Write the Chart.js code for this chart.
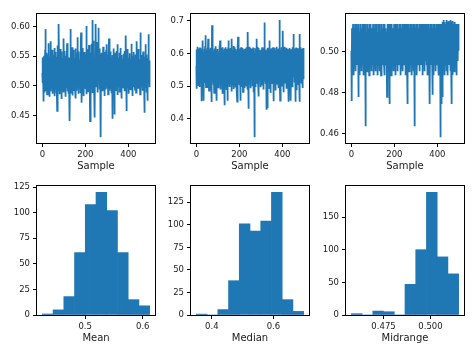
<!DOCTYPE html>
<html><head><meta charset="utf-8">
<script src="https://cdn.jsdelivr.net/npm/chart.js@4/dist/chart.umd.min.js"></script>
<style>
html,body{margin:0;padding:0;background:#fff;}
#fig{position:relative;width:474px;height:355px;overflow:hidden;background:#fff;}
.pane{position:absolute;}
</style></head><body><div id="fig"></div>
<script>
// ---------------- DATA ----------------
const sampleTickLabels = ['0','200','400'];

const meanSeries = [
0.522,0.548,0.505,0.531,0.497,0.474,0.538,0.512,0.551,0.489,0.527,0.543,0.502,0.561,0.596,0.515,0.535,0.493,0.556,0.521,0.508,0.547,0.486,0.529,0.553,
0.511,0.538,0.495,0.566,0.519,0.572,0.503,0.534,0.482,0.549,0.526,0.507,0.558,0.491,0.541,0.575,0.514,0.498,0.537,0.522,0.561,0.487,0.532,0.545,0.509,
0.528,0.552,0.494,0.519,0.541,0.503,0.564,0.512,0.483,0.536,0.524,0.557,0.497,0.545,0.515,0.531,0.488,0.549,0.506,0.458,0.533,0.568,0.501,0.539,0.518,
0.545,0.492,0.604,0.523,0.509,0.554,0.486,0.537,0.527,0.562,0.499,0.516,0.543,0.478,0.531,0.558,0.505,0.521,0.547,0.493,0.535,0.511,0.566,0.489,0.529,
0.580,0.513,0.542,0.496,0.525,0.559,0.503,0.538,0.482,0.551,0.519,0.534,0.497,0.546,0.527,0.572,0.508,0.536,0.491,0.553,0.521,0.544,0.487,0.532,0.516,
0.548,0.501,0.529,0.441,0.537,0.518,0.596,0.506,0.543,0.489,0.557,0.523,0.511,0.565,0.496,0.532,0.548,0.484,0.526,0.539,0.504,0.561,0.517,0.493,0.535,
0.522,0.547,0.498,0.531,0.563,0.509,0.479,0.541,0.526,0.555,0.492,0.518,0.536,0.582,0.503,0.528,0.549,0.487,0.533,0.514,0.558,0.497,0.539,0.521,0.506,
0.544,0.515,0.531,0.488,0.552,0.590,0.507,0.536,0.472,0.525,0.548,0.501,0.539,0.518,0.564,0.494,0.529,0.543,0.483,0.557,0.512,0.535,0.499,0.546,0.523,
0.538,0.495,0.553,0.517,0.529,0.486,0.601,0.521,0.541,0.503,0.562,0.511,0.534,0.491,0.548,0.526,0.507,0.569,0.498,0.537,0.515,0.545,0.441,0.531,0.556,
0.509,0.542,0.524,0.571,0.496,0.535,0.553,0.488,0.611,0.517,0.547,0.528,0.576,0.503,0.539,0.561,0.492,0.533,0.519,0.447,0.544,0.567,0.511,0.526,0.604,
0.514,0.551,0.498,0.538,0.527,0.574,0.505,0.543,0.489,0.559,0.521,0.598,0.512,0.536,0.548,0.494,0.531,0.563,0.506,0.525,0.541,0.487,0.414,0.553,0.518,
0.537,0.502,0.556,0.523,0.491,0.545,0.529,0.511,0.566,0.497,0.534,0.519,0.548,0.483,0.528,0.557,0.507,0.539,0.515,0.494,0.546,0.522,0.561,0.503,0.531,
0.570,0.513,0.541,0.496,0.526,0.552,0.486,0.535,0.518,0.543,0.580,0.505,0.529,0.547,0.492,0.537,0.521,0.558,0.499,0.532,0.514,0.549,0.488,0.527,0.541,
0.508,0.536,0.445,0.552,0.519,0.534,0.497,0.563,0.525,0.511,0.452,0.544,0.529,0.556,0.502,0.538,0.517,0.549,0.493,0.531,0.523,0.559,0.506,0.541,0.485,
0.570,0.514,0.535,0.498,0.548,0.522,0.507,0.543,0.529,0.489,0.556,0.517,0.539,0.501,0.564,0.526,0.511,0.547,0.479,0.533,0.552,0.504,0.538,0.519,0.545,
0.496,0.531,0.554,0.512,0.527,0.543,0.491,0.559,0.518,0.536,0.505,0.548,0.524,0.499,0.585,0.515,0.539,0.458,0.546,0.521,0.533,0.507,0.562,0.497,0.529,
0.541,0.513,0.548,0.487,0.532,0.519,0.555,0.502,0.537,0.524,0.493,0.546,0.512,0.534,0.528,0.571,0.508,0.539,0.483,0.526,0.551,0.517,0.535,0.498,0.543,
0.521,0.557,0.505,0.532,0.516,0.547,0.494,0.538,0.527,0.509,0.553,0.489,0.531,0.544,0.518,0.575,0.501,0.536,0.523,0.548,0.497,0.533,0.562,0.511,0.528,
0.545,0.503,0.537,0.519,0.529,0.486,0.590,0.514,0.541,0.526,0.498,0.552,0.508,0.534,0.521,0.547,0.492,0.539,0.515,0.558,0.502,0.531,0.545,0.511,0.455,
0.527,0.549,0.506,0.536,0.519,0.570,0.497,0.542,0.524,0.512,0.553,0.489,0.535,0.528,0.547,0.475,0.538,0.516,0.532,0.505,0.587,0.521,0.543,0.498,0.531
];

const medianSeries = [
0.561,0.492,0.612,0.527,0.598,0.515,0.621,0.548,0.503,0.607,0.536,0.584,0.521,0.615,0.497,0.592,0.543,0.618,0.509,0.576,0.604,0.531,0.612,0.453,0.589,
0.525,0.608,0.541,0.619,0.502,0.640,0.552,0.517,0.603,0.488,0.455,0.596,0.533,0.614,0.509,0.582,0.623,0.518,0.656,0.546,0.497,0.611,0.538,0.587,0.514,
0.602,0.529,0.617,0.494,0.578,0.645,0.521,0.608,0.543,0.486,0.613,0.552,0.507,0.594,0.532,0.618,0.498,0.574,0.611,0.536,0.451,0.605,0.524,0.687,0.547,
0.593,0.512,0.619,0.538,0.584,0.503,0.609,0.556,0.479,0.615,0.527,0.598,0.545,0.612,0.495,0.576,0.622,0.531,0.604,0.516,0.455,0.608,0.549,0.587,0.523,
0.614,0.496,0.591,0.538,0.607,0.519,0.583,0.625,0.507,0.549,0.640,0.528,0.612,0.489,0.596,0.541,0.617,0.513,0.573,0.604,0.532,0.619,0.476,0.588,0.545,
0.509,0.611,0.553,0.597,0.522,0.441,0.615,0.537,0.583,0.498,0.606,0.526,0.619,0.544,0.512,0.602,0.571,0.488,0.614,0.533,0.455,0.592,0.547,0.618,0.505,
0.640,0.524,0.589,0.612,0.497,0.578,0.615,0.541,0.506,0.599,0.528,0.617,0.551,0.483,0.607,0.645,0.519,0.594,0.537,0.611,0.502,0.586,0.623,0.534,0.491,
0.608,0.547,0.513,0.619,0.575,0.529,0.603,0.496,0.614,0.542,0.584,0.518,0.609,0.553,0.487,0.452,0.597,0.531,0.618,0.651,0.509,0.593,0.538,0.612,0.524,
0.581,0.615,0.503,0.547,0.606,0.455,0.591,0.528,0.619,0.542,0.497,0.608,0.574,0.515,0.617,0.536,0.589,0.482,0.611,0.549,0.523,0.603,0.558,0.614,0.494,
0.577,0.609,0.537,0.521,0.615,0.546,0.502,0.596,0.619,0.531,0.583,0.511,0.607,0.552,0.489,0.666,0.543,0.598,0.430,0.612,0.527,0.574,0.621,0.508,0.591,
0.535,0.617,0.544,0.493,0.605,0.572,0.519,0.614,0.538,0.586,0.499,0.609,0.551,0.526,0.618,0.481,0.594,0.533,0.611,0.547,0.509,0.343,0.602,0.529,0.616,
0.543,0.497,0.588,0.613,0.524,0.645,0.556,0.507,0.609,0.536,0.579,0.621,0.514,0.592,0.548,0.468,0.617,0.531,0.603,0.522,0.586,0.611,0.539,0.496,0.607,
0.553,0.518,0.614,0.541,0.583,0.502,0.619,0.537,0.594,0.526,0.608,0.489,0.572,0.615,0.533,0.549,0.611,0.514,0.695,0.542,0.597,0.521,0.612,0.506,0.586,
0.427,0.609,0.548,0.593,0.516,0.432,0.618,0.539,0.577,0.604,0.512,0.589,0.546,0.615,0.491,0.640,0.528,0.607,0.553,0.479,0.612,0.534,0.598,0.521,0.616,
0.545,0.587,0.509,0.613,0.538,0.594,0.524,0.619,0.551,0.497,0.453,0.606,0.532,0.581,0.617,0.515,0.598,0.543,0.611,0.486,0.573,0.608,0.529,0.621,0.547,
0.505,0.596,0.612,0.537,0.584,0.519,0.607,0.548,0.493,0.615,0.531,0.589,0.556,0.703,0.524,0.455,0.611,0.543,0.598,0.513,0.619,0.538,0.579,0.609,0.501,
0.592,0.547,0.615,0.670,0.526,0.603,0.539,0.481,0.612,0.558,0.517,0.594,0.621,0.533,0.586,0.508,0.614,0.545,0.597,0.523,0.618,0.492,0.571,0.609,0.536,
0.583,0.614,0.519,0.598,0.547,0.452,0.611,0.532,0.588,0.506,0.617,0.541,0.579,0.604,0.525,0.455,0.613,0.551,0.592,0.514,0.608,0.537,0.496,0.619,0.548,
0.574,0.609,0.528,0.660,0.543,0.597,0.511,0.615,0.536,0.584,0.452,0.606,0.549,0.521,0.618,0.538,0.593,0.487,0.612,0.545,0.577,0.609,0.503,0.616,0.532,
0.589,0.547,0.611,0.524,0.598,0.452,0.660,0.537,0.606,0.515,0.592,0.619,0.541,0.583,0.508,0.614,0.553,0.527,0.609,0.494,0.596,0.538,0.617,0.521,0.612
];

const midrangeSeries = [
0.5005,0.4935,0.4760,0.5115,0.4985,0.5095,0.4935,0.5025,0.5135,0.4955,0.5005,0.4885,0.5075,0.5005,0.4935,0.5115,0.4985,0.5055,0.4935,0.5135,0.5005,0.4905,0.5095,0.4985,0.5025,
0.4935,0.5135,0.5005,0.4955,0.5075,0.4985,0.5115,0.4780,0.5025,0.4935,0.5135,0.5005,0.4885,0.5055,0.4985,0.5095,0.4935,0.5025,0.5135,0.4955,0.5005,0.5075,0.4905,0.5115,0.4985,
0.5025,0.4935,0.5135,0.5005,0.4955,0.5095,0.4985,0.5055,0.4885,0.5135,0.5005,0.4935,0.5075,0.4985,0.5115,0.5025,0.4637,0.5005,0.5135,0.4935,0.5055,0.4985,0.5095,0.4905,0.5025,
0.5135,0.4955,0.5005,0.5075,0.4935,0.5115,0.4985,0.5025,0.4885,0.5135,0.5005,0.4955,0.5095,0.4935,0.5055,0.4985,0.5135,0.5005,0.4905,0.5075,0.4985,0.5115,0.4935,0.5025,0.5005,
0.4955,0.5135,0.4985,0.5055,0.4885,0.5095,0.5005,0.4935,0.5115,0.4985,0.5025,0.4905,0.5135,0.5005,0.4955,0.5075,0.4935,0.5025,0.5135,0.4985,0.5005,0.4885,0.5095,0.4955,0.5055,
0.5005,0.5135,0.4935,0.5025,0.4985,0.5115,0.4905,0.5005,0.5135,0.4955,0.5075,0.4985,0.5025,0.4885,0.5135,0.5005,0.4935,0.5095,0.4985,0.5055,0.4935,0.5115,0.5005,0.4955,0.5135,
0.4985,0.5025,0.4935,0.5075,0.5005,0.4885,0.5135,0.4985,0.5055,0.4935,0.5115,0.5005,0.4955,0.5095,0.4985,0.5025,0.4780,0.5005,0.5135,0.4935,0.5055,0.4985,0.5115,0.4905,0.5025,
0.5005,0.5135,0.4955,0.4745,0.5075,0.4985,0.5025,0.5135,0.4935,0.5005,0.4885,0.5095,0.4985,0.5055,0.5135,0.4935,0.5005,0.5115,0.4955,0.5025,0.4985,0.4905,0.5075,0.5005,0.5135,
0.4935,0.5025,0.4985,0.5115,0.4885,0.5055,0.5005,0.5135,0.4955,0.5095,0.4985,0.5025,0.4935,0.5135,0.5005,0.4905,0.5075,0.4985,0.5115,0.4935,0.5055,0.5005,0.4955,0.5135,0.4985,
0.5025,0.4935,0.5095,0.5005,0.4885,0.5135,0.4985,0.5055,0.4955,0.5115,0.5005,0.4935,0.5025,0.5135,0.4985,0.4905,0.5075,0.5005,0.5135,0.4955,0.5025,0.4985,0.5095,0.4935,0.5005,
0.5135,0.4985,0.5055,0.4885,0.5115,0.5005,0.4955,0.5025,0.5135,0.4935,0.5075,0.4985,0.4745,0.5005,0.5135,0.4955,0.5095,0.4985,0.5025,0.4905,0.5115,0.5005,0.4935,0.5055,0.4985,
0.5135,0.5005,0.4935,0.5075,0.4985,0.5025,0.4885,0.5135,0.5005,0.4955,0.5115,0.4985,0.5055,0.4935,0.5005,0.5135,0.4905,0.5095,0.4637,0.5025,0.4985,0.5135,0.4955,0.5005,0.5075,
0.4935,0.5115,0.4985,0.5025,0.5135,0.4885,0.5005,0.5055,0.4955,0.5135,0.4985,0.5095,0.4935,0.5025,0.5005,0.5115,0.4905,0.4985,0.5135,0.4955,0.5075,0.5005,0.4935,0.5025,0.5135,
0.4985,0.5055,0.4935,0.5005,0.5135,0.4885,0.5095,0.4985,0.5025,0.4955,0.5115,0.5005,0.4935,0.5135,0.4985,0.5075,0.4905,0.5025,0.5005,0.5135,0.4955,0.5055,0.4985,0.5115,0.4935,
0.5025,0.5135,0.4985,0.5005,0.4885,0.5095,0.4955,0.5135,0.5005,0.4935,0.5075,0.4985,0.5025,0.5115,0.4905,0.4745,0.5055,0.5005,0.5135,0.4935,0.4985,0.5095,0.5025,0.4955,0.5135,
0.5005,0.4935,0.4790,0.5115,0.4985,0.5055,0.4885,0.5135,0.5005,0.4955,0.5025,0.5095,0.4935,0.5135,0.4985,0.5075,0.5005,0.4905,0.5115,0.4985,0.5025,0.4935,0.5135,0.5005,0.4955,
0.5095,0.4985,0.5135,0.5025,0.4935,0.5055,0.5005,0.4885,0.5135,0.4985,0.5115,0.4955,0.5025,0.5005,0.4584,0.5075,0.4935,0.5135,0.4745,0.5005,0.5095,0.4985,0.5135,0.4905,0.4780,
0.5025,0.5145,0.4985,0.5055,0.4935,0.5155,0.5005,0.4885,0.5115,0.4985,0.5145,0.4955,0.5025,0.5075,0.4935,0.5135,0.5005,0.4905,0.5155,0.4985,0.5095,0.4935,0.5025,0.5145,0.4885,
0.5055,0.5150,0.4985,0.5005,0.4935,0.5145,0.5025,0.4955,0.5135,0.4985,0.5095,0.4905,0.5155,0.5005,0.4935,0.5075,0.5145,0.4745,0.5025,0.4985,0.5115,0.4885,0.5150,0.5005,0.4935,
0.5135,0.4985,0.5055,0.4905,0.5145,0.5005,0.4935,0.5095,0.4985,0.5135,0.5025,0.4955,0.5115,0.4885,0.5005,0.5075,0.4935,0.5135,0.4985,0.5025,0.5095,0.4955,0.5135,0.5005,0.5055
];

const meanLineYTicks = ['0.45','0.50','0.55','0.60'];
const medianLineYTicks = ['0.4','0.5','0.6','0.7'];
const midrangeLineYTicks = ['0.46','0.48','0.50'];

// histograms: counts per bin and the [first edge, last edge] of the 10 bins
const meanCounts = [1,5,18,61,108,120,102,61,15,9];
const meanBinRange = [0.4255, 0.612];
const medianCounts = [1,0,6,38,101,93,104,136,17,4];
const medianBinRange = [0.350, 0.698];
const midrangeCounts = [2,0,6,5,0,47,100,188,89,63];
const midrangeBinRange = [0.45786, 0.515];

const meanHistXTicks = ['0.5','0.6'];
const medianHistXTicks = ['0.4','0.6'];
const midrangeHistXTicks = ['0.475','0.500'];
const meanHistYTicks = ['0','25','50','75','100','125'];
const medianHistYTicks = ['0','25','50','75','100','125'];
const midrangeHistYTicks = ['0','50','100','150'];

const xLabels = ['Sample','Sample','Sample','Mean','Median','Midrange'];

// ---------------- RENDER ----------------
const BLUE = '#1f77b4';
const TXT = '#1a1a1a';
Chart.defaults.font.family = "'DejaVu Sans', sans-serif";
Chart.defaults.animation = false;

const AX_W = 118, AX_H = 131, PAD_L = 40, PAD_T = 6, PAD_R = 6, PAD_B = 40;
const cols = [37, 191, 346];
const rows = [12, 184];

const framePlugin = {
  id: 'frame',
  afterDraw(chart) {
    const a = chart.chartArea, c = chart.ctx;
    c.save();
    c.strokeStyle = '#000';
    c.lineWidth = 1;
    const l = Math.round(a.left) - 0.5, t = Math.round(a.top) - 0.5;
    const r = Math.round(a.right) + 0.5, b = Math.round(a.bottom) + 0.5;
    c.strokeRect(l, t, r - l, b - t);
    c.restore();
  }
};

function scaleOpts(labels, min, max, isX, title) {
  const vals = labels.map(parseFloat);
  const o = {
    type: 'linear', min, max, offset: false,
    afterBuildTicks(s) { s.ticks = vals.map(v => ({ value: v })); },
    ticks: {
      autoSkip: false, maxRotation: 0, minRotation: 0,
      padding: 3, color: TXT, font: { size: 8.5 },
      callback: (v, i) => labels[i]
    },
    grid: { display: true, offset: false, drawOnChartArea: false, drawTicks: true, tickLength: 4, tickColor: '#000', tickWidth: 1 },
    border: { display: false }
  };
  if (isX) {
    o.afterFit = s => { s.height = PAD_B; };
    o.title = { display: true, text: title, color: TXT, font: { size: 10 }, padding: { top: 0, bottom: 11 } };
  } else {
    o.afterFit = s => { s.width = PAD_L; };
  }
  return o;
}

function makePane(col, row) {
  const d = document.createElement('div');
  d.className = 'pane';
  d.style.left = (cols[col] - PAD_L) + 'px';
  d.style.top = (rows[row] - PAD_T) + 'px';
  const cv = document.createElement('canvas');
  const W = PAD_L + AX_W + PAD_R, H = PAD_T + AX_H + PAD_B;
  cv.width = W; cv.height = H;
  cv.style.width = W + 'px'; cv.style.height = H + 'px';
  d.appendChild(cv);
  document.getElementById('fig').appendChild(d);
  return cv;
}

function margins(arr) {
  const lo = Math.min(...arr), hi = Math.max(...arr), m = (hi - lo) * 0.05;
  return [lo - m, hi + m];
}

function lineChart(col, series, yTicks, title) {
  const [ylo, yhi] = margins(series);
  const [xlo, xhi] = margins([0, series.length - 1]);
  new Chart(makePane(col, 0), {
    type: 'line',
    data: { datasets: [{ data: series.map((v, i) => ({ x: i, y: v })), borderColor: BLUE, borderWidth: 1.8, pointRadius: 0, tension: 0, fill: false }] },
    options: {
      responsive: false, events: [], parsing: false,
      layout: { padding: { top: PAD_T, right: PAD_R, left: 0, bottom: 0 } },
      plugins: { legend: { display: false }, tooltip: { enabled: false } },
      scales: {
        x: scaleOpts(sampleTickLabels, xlo, xhi, true, title),
        y: scaleOpts(yTicks, ylo, yhi, false)
      }
    },
    plugins: [framePlugin]
  });
}

function histChart(col, counts, range, xTicks, yTicks, title) {
  const w = (range[1] - range[0]) / counts.length;
  const pts = counts.map((c, i) => ({ x: range[0] + (i + 0.5) * w, y: c }));
  const [xlo, xhi] = margins(range);
  const ymax = Math.max(...counts) * 1.05;
  new Chart(makePane(col, 1), {
    type: 'bar',
    data: { datasets: [{ data: pts, backgroundColor: BLUE, borderWidth: 0, barPercentage: 1, categoryPercentage: 1 }] },
    options: {
      responsive: false, events: [],
      layout: { padding: { top: PAD_T, right: PAD_R, left: 0, bottom: 0 } },
      plugins: { legend: { display: false }, tooltip: { enabled: false } },
      scales: {
        x: scaleOpts(xTicks, xlo, xhi, true, title),
        y: scaleOpts(yTicks, 0, ymax, false)
      }
    },
    plugins: [framePlugin]
  });
}

lineChart(0, meanSeries, meanLineYTicks, xLabels[0]);
lineChart(1, medianSeries, medianLineYTicks, xLabels[1]);
lineChart(2, midrangeSeries, midrangeLineYTicks, xLabels[2]);
histChart(0, meanCounts, meanBinRange, meanHistXTicks, meanHistYTicks, xLabels[3]);
histChart(1, medianCounts, medianBinRange, medianHistXTicks, medianHistYTicks, xLabels[4]);
histChart(2, midrangeCounts, midrangeBinRange, midrangeHistXTicks, midrangeHistYTicks, xLabels[5]);
</script>
</body></html>
